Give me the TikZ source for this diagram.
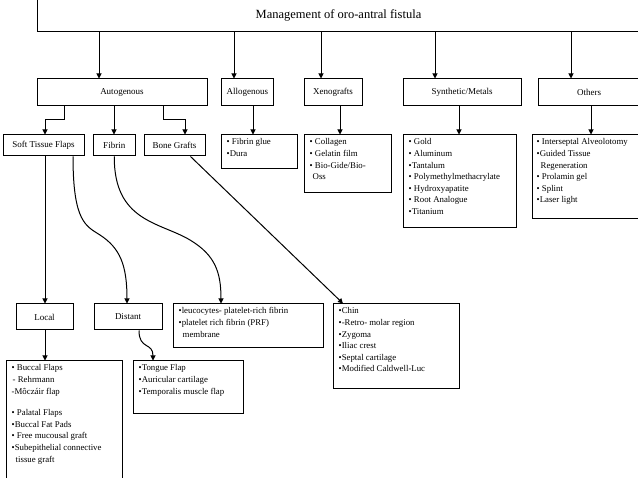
\documentclass[tikz,border=0pt]{standalone}
\usepackage{fontspec}
\setmainfont{Liberation Serif}
\usetikzlibrary{arrows.meta,calc}
\begin{document}
\begin{tikzpicture}[x=1pt,y=-1pt,
  box/.style={draw,line width=1pt,rectangle,inner sep=0pt,font=\fontsize{9}{11}\selectfont},
  lst/.style={anchor=north west,inner sep=0pt,align=left,font=\fontsize{8.8}{11.6}\selectfont},
  arr/.style={line width=1pt,-{Triangle[length=5pt,width=5pt]}}]
\useasboundingbox (0,0) rectangle (638,478);
\node[box,minimum width=603,minimum height=33,font=\fontsize{12.5}{14}\selectfont] (title) at (338.5,15.5) {Management of oro-antral fistula};
\node[box,minimum width=170,minimum height=27] (auto) at (122,92.5) {Autogenous};
\node[box,minimum width=52.5,minimum height=27] (allo) at (247.25,92.5) {Allogenous};
\node[box,minimum width=58,minimum height=27] (xeno) at (333,92.5) {Xenografts};
\node[box,minimum width=118,minimum height=27] (synth) at (462,92.5) {Synthetic/Metals};
\node[box,minimum width=102,minimum height=27] (others) at (589,92.5) {Others};
\node[box,minimum width=81,minimum height=21] (soft) at (43.5,145.5) {Soft Tissue Flaps};
\node[box,minimum width=42.5,minimum height=21] (fibrin) at (114.25,145.5) {Fibrin};
\node[box,minimum width=61,minimum height=21] (bone) at (174.5,145.5) {Bone Grafts};
\node[box,minimum width=76,minimum height=34] (fglue) at (259,152) {};
\node[box,minimum width=87.5,minimum height=58] (xlist) at (347.75,164) {};
\node[box,minimum width=113,minimum height=93] (slist) at (459.5,181.5) {};
\node[box,minimum width=110,minimum height=84] (olist) at (587,177) {};
\node[box,minimum width=57,minimum height=26] (local) at (44.5,317) {Local};
\node[box,minimum width=68,minimum height=26] (distant) at (128,317) {Distant};
\node[box,minimum width=150,minimum height=44] (prf) at (248,326) {};
\node[box,minimum width=126,minimum height=85] (chin) at (396,346.5) {};
\node[box,minimum width=116,minimum height=119] (buccal) at (64,420.5) {};
\node[box,minimum width=110,minimum height=53] (tongue) at (188,387.5) {};
% list texts
\node[lst] (t1) at ($(fglue.north west)+(6,4)$) {• Fibrin glue\\•Dura};
\node[lst] (t2) at ($(xlist.north west)+(6,4)$) {• Collagen\\• Gelatin film\\• Bio-Gide/Bio-\\\hspace{3pt}Oss};
\node[lst] (t3) at ($(slist.north west)+(6,4)$) {• Gold\\• Aluminum\\•Tantalum\\• Polymethylmethacrylate\\• Hydroxyapatite\\• Root Analogue\\•Titanium};
\node[lst] (t4) at ($(olist.north west)+(5,4)$) {• Interseptal Alveolotomy\\•Guided Tissue\\\hspace{4pt}Regeneration\\• Prolamin gel\\• Splint\\•Laser light};
\node[lst] (t5) at ($(prf.north west)+(6,4)$) {•leucocytes- platelet-rich fibrin\\•platelet rich fibrin (PRF)\\\hspace{4pt}membrane};
\node[lst] (t6) at ($(chin.north west)+(6,4)$) {•Chin\\•-Retro- molar region\\•Zygoma\\•Iliac crest\\•Septal cartilage\\•Modified Caldwell-Luc};
\node[lst] (t7) at ($(buccal.north west)+(6,4)$) {• Buccal Flaps\\\hspace{1pt}- Rehrmann\\-Môczáir flap\\[10pt]• Palatal Flaps\\•Buccal Fat Pads\\• Free mucousal graft\\•Subepithelial connective\\\hspace{4pt}tissue graft};
\node[lst] (t8) at ($(tongue.north west)+(6,4)$) {•Tongue Flap\\•Auricular cartilage\\•Temporalis muscle flap};
% connectors
\draw[arr] ($(title.south)+(-239.5,0)$) -- ($(auto.north)+(-23,0)$);
\draw[arr] ($(title.south)+(-104.5,0)$) -- ($(allo.north)+(-13.25,0)$);
\draw[arr] ($(title.south)+(-17.5,0)$) -- ($(xeno.north)+(-12,0)$);
\draw[arr] ($(title.south)+(96.5,0)$) -- ($(synth.north)+(-27,0)$);
\draw[arr] ($(title.south)+(232.5,0)$) -- ($(others.north)+(-18,0)$);
\draw[arr] ($(allo.south)+(5.75,0)$) -- ($(fglue.north)+(-6,0)$);
\draw[arr] ($(xeno.south)+(7,0)$) -- ($(xlist.north)+(-7.75,0)$);
\draw[arr] ($(synth.south)+(-3,0)$) -- ($(slist.north)+(-0.5,0)$);
\draw[arr] ($(others.south)+(2,0)$) -- ($(olist.north)+(4,0)$);
\draw[arr] ($(auto.south)+(-58,0)$) -- ++(0,13) -| ($(soft.north)+(1.5,0)$);
\draw[arr] ($(auto.south)+(-8,0)$) -- ($(fibrin.north)+(-0.25,0)$);
\draw[arr] ($(auto.south)+(41,0)$) -- ++(0,13) -| ($(bone.north)+(10.5,0)$);
\draw[arr] ($(soft.south)+(1.5,0)$) -- ($(local.north)+(0.5,0)$);
\draw[arr] ($(soft.south)+(29.5,0)$) .. controls (73,222) and (86,226) .. (100,235) .. controls (120,248) and (127,265) .. ($(distant.north)+(-1,0)$);
\draw[arr] (fibrin.south) .. controls (114,222) and (160,222) .. (190,240) .. controls (215,255) and (221,272) .. ($(prf.north)+(-27,0)$);
\draw[arr] ($(bone.south)+(16,0)$) -- ($(chin.north)+(-53,0)$);
\draw[arr] ($(local.south)+(0.5,0)$) -- ($(buccal.north)+(-19,0)$);
\draw[arr] ($(distant.south)+(11,0)$) .. controls (139,350) and (153,342) .. ($(tongue.north)+(-35,0)$);
\end{tikzpicture}
\end{document}
